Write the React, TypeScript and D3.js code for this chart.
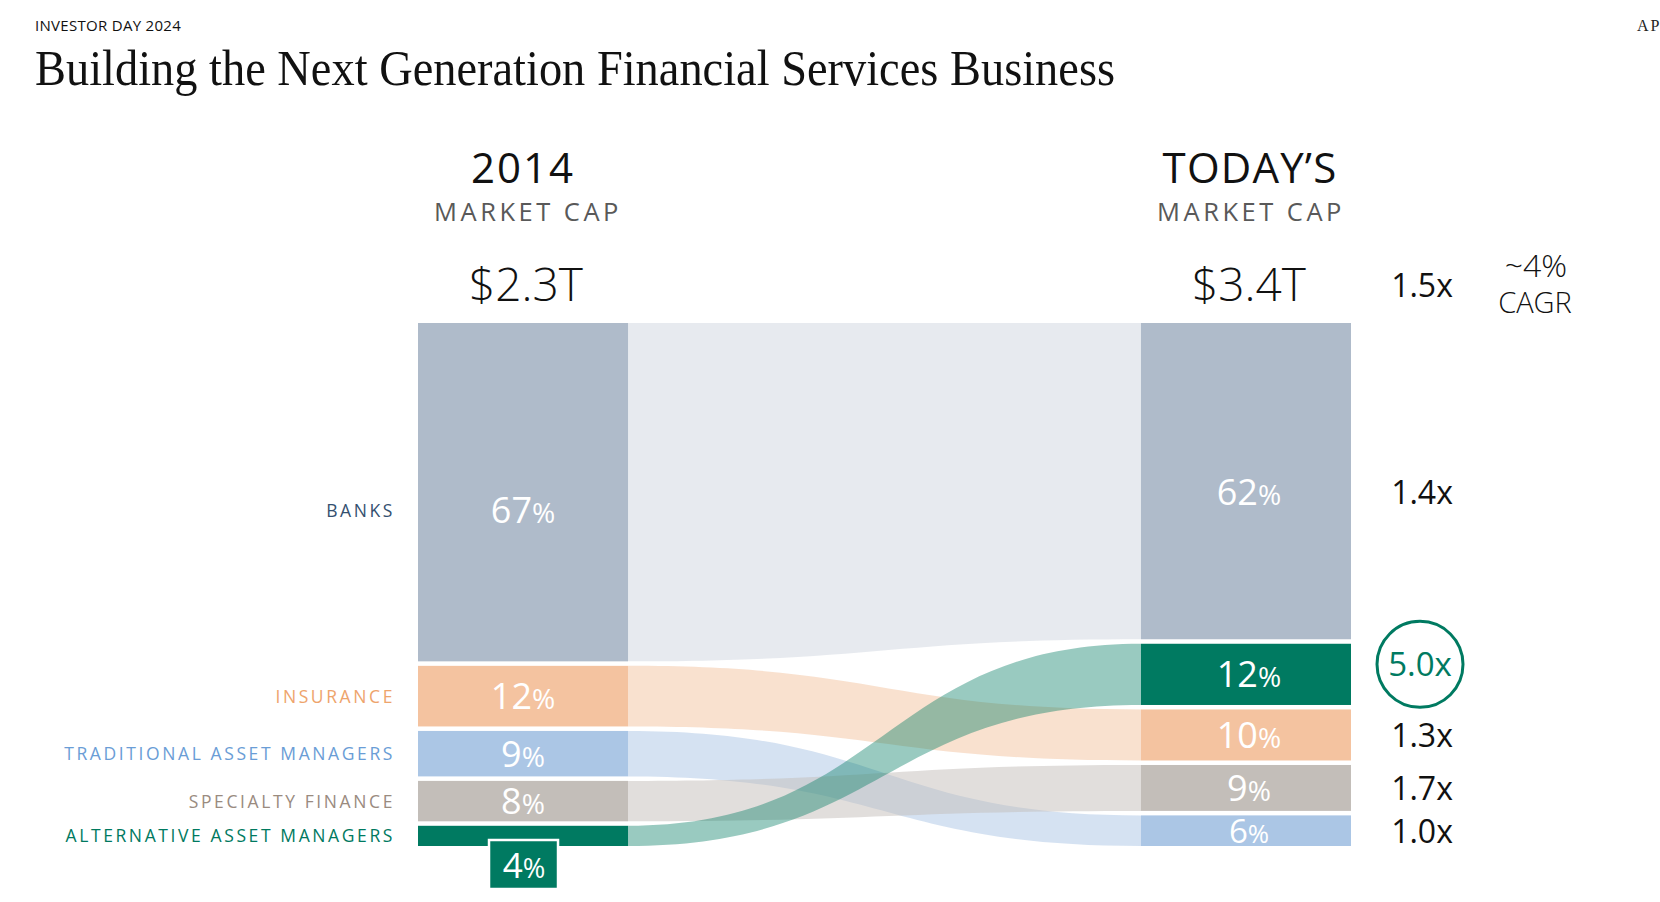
import React from "react";
import * as d3 from "d3";

// --- data ---
const categories = [
  "Banks",
  "Insurance",
  "Traditional Asset Managers",
  "Specialty Finance",
  "Alternative Asset Managers",
];
const share2014 = [67, 12, 9, 8, 4];
const shareToday = [62, 10, 6, 9, 12];
const todayOrder = [
  "Banks",
  "Alternative Asset Managers",
  "Insurance",
  "Specialty Finance",
  "Traditional Asset Managers",
];
const growth = ["1.4x", "1.3x", "1.0x", "1.7x", "5.0x"];
const columns = ["2014", "TODAY\u2019S"];
const totals = ["$2.3T", "$3.4T"];
const totalGrowth = "1.5x";
const cagr = "~4%";

// --- styling ---
const fill: Record<string, string> = {
  Banks: "#afbbca",
  Insurance: "#f4c3a0",
  "Traditional Asset Managers": "#abc6e5",
  "Specialty Finance": "#c3beb9",
  "Alternative Asset Managers": "#007a61",
};
const labelColor: Record<string, string> = {
  Banks: "#34506f",
  Insurance: "#eea46c",
  "Traditional Asset Managers": "#6a9dd6",
  "Specialty Finance": "#9a8b7f",
  "Alternative Asset Managers": "#00795f",
};
const linkOpacity: Record<string, number> = {
  Banks: 0.3,
  Insurance: 0.5,
  "Traditional Asset Managers": 0.5,
  "Specialty Finance": 0.5,
  "Alternative Asset Managers": 0.4,
};

const W = 1660;
const H = 902;
const top = 323;
const bottom = 846;
const gap = 4.5;
const sans = "'Open Sans', 'Noto Sans', sans-serif";
const green = "#007a61";

type Seg = { name: string; value: number; y0: number; y1: number };

function stack(order: string[], valueOf: (n: string) => number): Seg[] {
  const total = d3.sum(order, valueOf);
  const y = d3
    .scaleLinear()
    .domain([0, total])
    .range([0, bottom - top - gap * (order.length - 1)]);
  let acc = top;
  return order.map((name) => {
    const v = valueOf(name);
    const s = { name, value: v, y0: acc, y1: acc + y(v) };
    acc = s.y1 + gap;
    return s;
  });
}

function Pct({ x, y, value, size = 36 }: { x: number; y: number; value: number; size?: number }) {
  return (
    <text x={x} y={y + size * 0.36} textAnchor="middle" fill="#fff" fontFamily={sans} fontWeight={500} fontSize={size}>
      {value}
      <tspan fontSize={size * 0.78} fontWeight={400}>%</tspan>
    </text>
  );
}

export default function App() {
  const x = d3.scaleBand().domain(columns).range([418, 1351]).paddingInner(0.7095);
  const bw = x.bandwidth();
  const xl = x(columns[0])!;
  const xr = x(columns[1])!;

  const left = stack(categories, (n) => share2014[categories.indexOf(n)]);
  const right = stack(todayOrder, (n) => shareToday[categories.indexOf(n)]);
  const byName = (arr: Seg[], n: string) => arr.find((s) => s.name === n)!;

  const x0 = xl + bw;
  const x1 = xr;
  const xm = (x0 + x1) / 2;
  const linkPath = (a: Seg, b: Seg) => {
    const p = d3.path();
    p.moveTo(x0, a.y0);
    p.bezierCurveTo(xm, a.y0, xm, b.y0, x1, b.y0);
    p.lineTo(x1, b.y1);
    p.bezierCurveTo(xm, b.y1, xm, a.y1, x0, a.y1);
    p.closePath();
    return p.toString();
  };

  const midL = (s: Seg) => (s.y0 + s.y1) / 2 + (s.name === "Banks" ? 18 : 0);
  const midR = (s: Seg) => (s.y0 + s.y1) / 2 + (s.name === "Banks" ? 11 : 0);
  const pctSize = (s: Seg) => Math.min(36, (s.y1 - s.y0) * 1.08);
  const multX = 1422;
  const colCenters = columns.map((c) => x(c)! + bw / 2);

  return (
    <div style={{ position: "absolute", left: 0, top: 0 }}>
      <svg width={W} height={H} viewBox={`0 0 ${W} ${H}`} style={{ display: "block", background: "#fff" }}>
        {/* header */}
        <text x={35} y={31} fontFamily={sans} fontSize={15} fill="#111" letterSpacing={0.3}>
          INVESTOR DAY 2024
        </text>
        <text
          x={35}
          y={85}
          fontFamily="'Liberation Serif', 'DejaVu Serif', serif"
          fontSize={50}
          fill="#111"
          textLength={1080}
          lengthAdjust="spacingAndGlyphs"
        >
          Building the Next Generation Financial Services Business
        </text>
        <text x={1637} y={31} fontFamily="'Liberation Serif', serif" fontSize={16} letterSpacing={2} fill="#222">
          AP
        </text>

        {/* column headings */}
        {columns.map((c, i) => (
          <g key={c}>
            <text
              x={colCenters[i] + (i === 1 ? 4 : 0)}
              y={183}
              textAnchor="middle"
              fontFamily={sans}
              fontSize={42}
              letterSpacing={i === 1 ? 1.2 : 2}
              fill="#111"
            >
              {c}
            </text>
            <text x={colCenters[i] + 5} y={221} textAnchor="middle" fontFamily={sans} fontSize={25.5} letterSpacing={3.5} fill="#595959">
              MARKET CAP
            </text>
            <text x={colCenters[i] + 3} y={301} textAnchor="middle" fontFamily={sans} fontWeight={300} fontSize={46} fill="#111">
              {totals[i]}
            </text>
          </g>
        ))}
        <text x={multX} y={297} textAnchor="middle" fontFamily={sans} fontSize={32} fill="#111">
          {totalGrowth}
        </text>
        <text x={1536} y={277} textAnchor="middle" fontFamily={sans} fontWeight={300} fontSize={32} fill="#111">
          {cagr}
        </text>
        <text x={1535} y={313} textAnchor="middle" fontFamily={sans} fontWeight={300} fontSize={29} fill="#111">
          CAGR
        </text>

        {/* flows */}
        {categories.map((n) => (
          <path key={n} d={linkPath(byName(left, n), byName(right, n))} fill={fill[n]} fillOpacity={linkOpacity[n]} />
        ))}

        {/* bars */}
        {left.map((s) => (
          <rect key={"l" + s.name} x={xl} y={s.y0} width={bw} height={s.y1 - s.y0} fill={fill[s.name]} />
        ))}
        {right.map((s) => (
          <rect key={"r" + s.name} x={xr} y={s.y0} width={bw} height={s.y1 - s.y0} fill={fill[s.name]} />
        ))}

        {/* category labels */}
        {left.map((s) => (
          <text
            key={"lab" + s.name}
            x={395}
            y={midL(s) + 6.5}
            textAnchor="end"
            fontFamily={sans}
            fontWeight={500}
            fontSize={17.5}
            letterSpacing={2.6}
            fill={labelColor[s.name]}
          >
            {s.name.toUpperCase()}
          </text>
        ))}

        {/* share labels */}
        {left
          .filter((s) => s.name !== "Alternative Asset Managers")
          .map((s) => (
            <Pct key={"lp" + s.name} x={colCenters[0]} y={midL(s)} value={s.value} size={pctSize(s)} />
          ))}
        {(() => {
          const s = byName(left, "Alternative Asset Managers");
          return (
            <g>
              <rect x={colCenters[0] - 34} y={840} width={69} height={49} fill={green} stroke="#fff" strokeWidth={2.5} />
              <Pct x={colCenters[0] + 1} y={865} value={s.value} size={35} />
            </g>
          );
        })()}
        {right.map((s) => (
          <Pct key={"rp" + s.name} x={colCenters[1] + 3} y={midR(s)} value={s.value} size={pctSize(s)} />
        ))}

        {/* growth multiples */}
        {right.map((s) => {
          const g = growth[categories.indexOf(s.name)];
          if (s.name === "Alternative Asset Managers") {
            const cy = midR(s) - 10;
            return (
              <g key={"g" + s.name}>
                <circle cx={multX - 2} cy={cy} r={43} fill="#fff" stroke={green} strokeWidth={3} />
                <text x={multX - 2} y={cy + 12} textAnchor="middle" fontFamily={sans} fontSize={33} fill={green}>
                  {g}
                </text>
              </g>
            );
          }
          return (
            <text key={"g" + s.name} x={multX} y={midR(s) + 12} textAnchor="middle" fontFamily={sans} fontSize={32} fill="#111">
              {g}
            </text>
          );
        })}
      </svg>
    </div>
  );
}
